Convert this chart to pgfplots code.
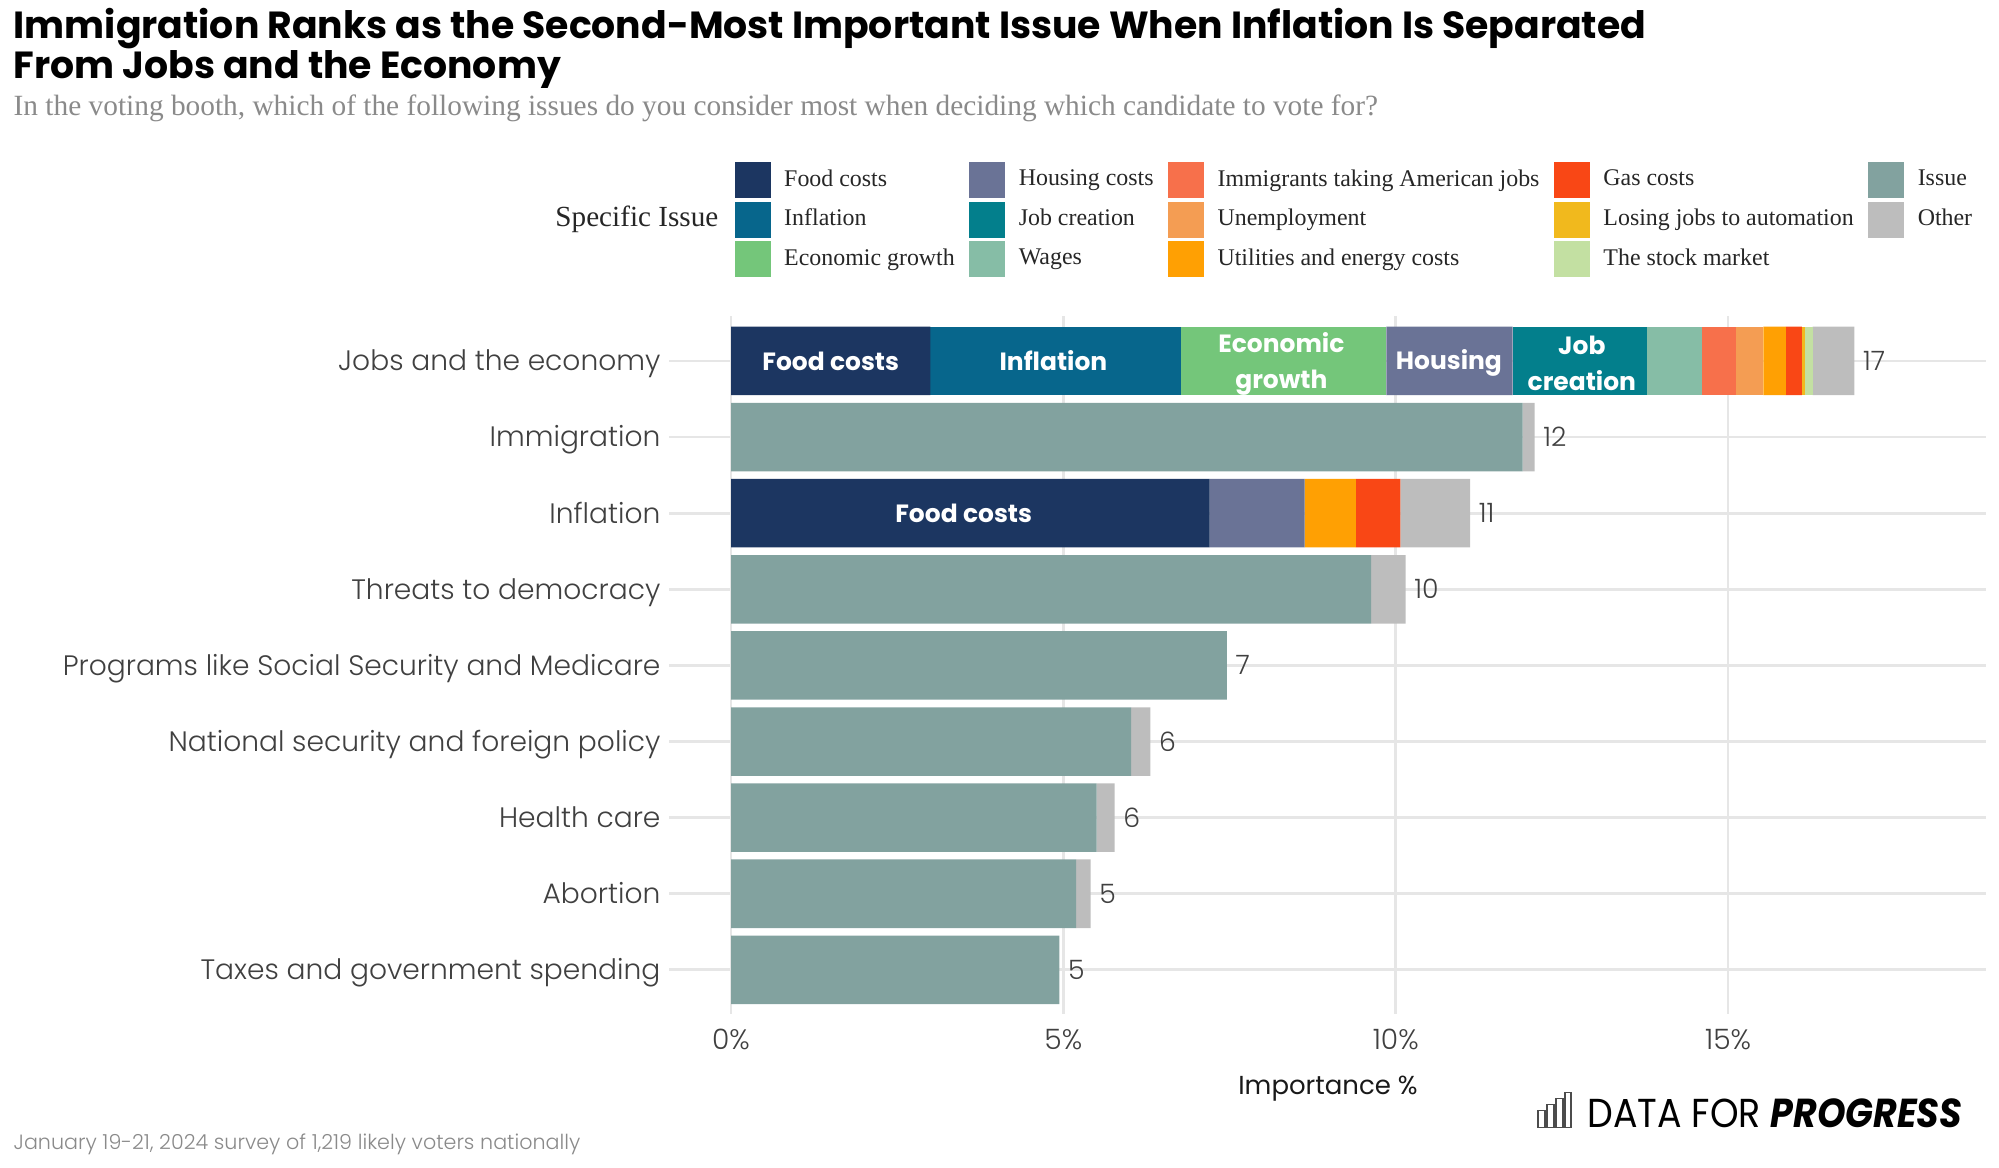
\documentclass[border=0pt]{standalone}
\usepackage{pgfplots}
\pgfplotsset{compat=1.18}
\usepackage{pgfplotstable}
\usepackage{fontspec}
\setmainfont{Poppins}
\newfontfamily\lightfont{Poppins}[UprightFont=* Light]
\newfontfamily\serif{Liberation Serif}
\newfontfamily\logofont{Poppins}[FakeStretch=0.9]

\definecolor{cFood}{HTML}{1C3661}
\definecolor{cInfl}{HTML}{07668C}
\definecolor{cEcon}{HTML}{74C67A}
\definecolor{cHouse}{HTML}{6A7396}
\definecolor{cJob}{HTML}{037F8C}
\definecolor{cWage}{HTML}{86BDA6}
\definecolor{cImmig}{HTML}{F7704B}
\definecolor{cUnemp}{HTML}{F49D53}
\definecolor{cUtil}{HTML}{FFA003}
\definecolor{cGas}{HTML}{F94715}
\definecolor{cAuto}{HTML}{F1B91D}
\definecolor{cStock}{HTML}{C3E0A2}
\definecolor{cIssue}{HTML}{82A29F}
\definecolor{cOther}{HTML}{BDBDBD}
\definecolor{txt}{HTML}{404040}
\definecolor{subt}{HTML}{8A8A8A}
\definecolor{gridc}{HTML}{E6E6E6}

% y: 8 = top row (Jobs and the economy) ... 0 = bottom row
\pgfplotstableread{
y food infl econ house job wage immig unemp util gas auto stock issue other
8 3.00 3.77 3.09 1.90 2.02 0.82 0.52 0.41 0.34 0.24 0.05 0.11 0     0.63
7 0    0    0    0    0    0    0    0    0    0    0    0    11.91 0.18
6 7.20 0    0    1.43 0    0    0    0    0.77 0.67 0    0    0     1.05
5 0    0    0    0    0    0    0    0    0    0    0    0    9.63  0.52
4 0    0    0    0    0    0    0    0    0    0    0    0    7.46  0
3 0    0    0    0    0    0    0    0    0    0    0    0    6.02  0.29
2 0    0    0    0    0    0    0    0    0    0    0    0    5.50  0.27
1 0    0    0    0    0    0    0    0    0    0    0    0    5.19  0.22
0 0    0    0    0    0    0    0    0    0    0    0    0    4.94  0
}\data

\pgfplotsset{
  seg/.style={fill=#1, draw=none,
    legend image code/.code={\fill[#1] (0mm,-1.8mm) rectangle (3.6mm,1.8mm);}},
}
\tikzset{
  lab/.style={text=white, font=\fontsize{7.1}{10.2}\selectfont\bfseries, align=center},
  val/.style={text=txt, font=\lightfont\fontsize{7.6}{8}\selectfont, anchor=west, inner sep=0.8mm},
}

\begin{document}
\begin{tikzpicture}
\begin{scope}[x=0.1mm, y=-0.1mm]
\path[use as bounding box] (0,0) rectangle (1999,1167);
\node[anchor=base west, inner sep=0pt, font=\fontsize{10.75}{11}\selectfont\bfseries] at (13,38)
  {Immigration Ranks as the Second-Most Important Issue When Inflation Is Separated};
\node[anchor=base west, inner sep=0pt, font=\fontsize{10.75}{11}\selectfont\bfseries] at (13,78)
  {From Jobs and the Economy};
\node[anchor=base west, inner sep=0pt, text=subt, font=\serif\fontsize{8.35}{9}\selectfont] at (13,115)
  {In the voting booth, which of the following issues do you consider most when deciding which candidate to vote for?};
\node[anchor=east, inner sep=0pt, text=black!85, font=\serif\fontsize{8.3}{9}\selectfont] at (719,219) {Specific Issue};
\node[anchor=center, inner sep=0pt, text=black!90, font=\fontsize{7.4}{8}\selectfont] at (1328,1089) {Importance \%};
\node[anchor=base west, inner sep=0pt, text=subt, font=\lightfont\fontsize{5.88}{6}\selectfont] at (13,1149)
  {January 19-21, 2024 survey of 1,219 likely voters nationally};
\node[anchor=base west, inner sep=0pt, font=\logofont\fontsize{11.5}{12}\selectfont] at (1587,1127)
  {DATA FOR \textbf{\itshape PROGRESS}};
\draw[black!70, line width=0.3pt] (1538,1127) rectangle (1545,1110)
  (1547,1127) rectangle (1554,1104) (1556,1127) rectangle (1563,1098) (1565,1127) rectangle (1571,1092);
\end{scope}

\begin{axis}[
  at={(66.9mm,-101.4mm)}, anchor=south west,
  width=131.7mm, height=69.8mm, scale only axis,
  xbar stacked, bar width=0.9,
  xmin=-0.933, xmax=18.88, ymin=-0.58, ymax=8.59,
  xtick={0,5,10,15}, xticklabels={0\%,5\%,10\%,15\%},
  ytick={0,...,8},
  yticklabels={Taxes and government spending, Abortion, Health care,
    National security and foreign policy, Programs like Social Security and Medicare,
    Threats to democracy, Inflation, Immigration, Jobs and the economy},
  yticklabel style={anchor=base east, yshift=-2.8pt, xshift=1.1pt},
  xticklabel style={yshift=-0.7pt},
  xmajorgrids, ymajorgrids, grid style={gridc, line width=0.8pt},
  axis line style={draw=none}, major tick length=0pt,
  tick label style={font=\lightfont\fontsize{8}{9}\selectfont, text=txt},
  legend columns=3, transpose legend, legend cell align=left,
  legend style={at={(0.0494,1.221)}, anchor=north west, draw=none, fill=none,
    inner sep=0pt, font=\serif\fontsize{6.8}{7}\selectfont, text=black!85,
    row sep=0.35mm, nodes={inner sep=0.4mm},
    /tikz/every odd column/.append style={column sep=0.95mm},
    /tikz/every even column/.append style={column sep=1.05mm}},
]
\addplot[seg=cFood]  table[x=food,  y=y] {\data};
\addplot[seg=cInfl]  table[x=infl,  y=y] {\data};
\addplot[seg=cEcon]  table[x=econ,  y=y] {\data};
\addplot[seg=cHouse] table[x=house, y=y] {\data};
\addplot[seg=cJob]   table[x=job,   y=y] {\data};
\addplot[seg=cWage]  table[x=wage,  y=y] {\data};
\addplot[seg=cImmig] table[x=immig, y=y] {\data};
\addplot[seg=cUnemp] table[x=unemp, y=y] {\data};
\addplot[seg=cUtil]  table[x=util,  y=y] {\data};
\addplot[seg=cGas]   table[x=gas,   y=y] {\data};
\addplot[seg=cAuto]  table[x=auto,  y=y] {\data};
\addplot[seg=cStock] table[x=stock, y=y] {\data};
\addplot[seg=cIssue] table[x=issue, y=y] {\data};
\addplot[seg=cOther] table[x=other, y=y] {\data};
\legend{Food costs, Inflation, Economic growth, Housing costs, Job creation, Wages,
  Immigrants taking American jobs, Unemployment, Utilities and energy costs,
  Gas costs, Losing jobs to automation, The stock market, Issue, Other}

% anchors for the labels, drawn on top after the axis
\coordinate (l1) at (axis cs:1.50,8);
\coordinate (l2) at (axis cs:4.85,8);
\coordinate (l3) at (axis cs:8.28,8);
\coordinate (l4) at (axis cs:10.80,8);
\coordinate (l5) at (axis cs:12.80,8);
\coordinate (l6) at (axis cs:3.50,6);
\coordinate (v8) at (axis cs:16.90,8);
\coordinate (v7) at (axis cs:12.09,7);
\coordinate (v6) at (axis cs:11.12,6);
\coordinate (v5) at (axis cs:10.15,5);
\coordinate (v4) at (axis cs:7.46,4);
\coordinate (v3) at (axis cs:6.31,3);
\coordinate (v2) at (axis cs:5.77,2);
\coordinate (v1) at (axis cs:5.41,1);
\coordinate (v0) at (axis cs:4.94,0);
\end{axis}

\node[lab] at (l1) {Food costs};
\node[lab] at (l2) {Inflation};
\node[lab, yshift=-0.8pt] at (l3) {Economic\\growth};
\node[lab, yshift=-0.7pt] at (l4) {Housing};
\node[lab, yshift=-0.8pt] at (l5) {Job\\creation};
\node[lab] at (l6) {Food costs};
\node[val] at (v8) {17};
\node[val] at (v7) {12};
\node[val] at (v6) {11};
\node[val] at (v5) {10};
\node[val] at (v4) {7};
\node[val] at (v3) {6};
\node[val] at (v2) {6};
\node[val] at (v1) {5};
\node[val] at (v0) {5};
\end{tikzpicture}
\end{document}
